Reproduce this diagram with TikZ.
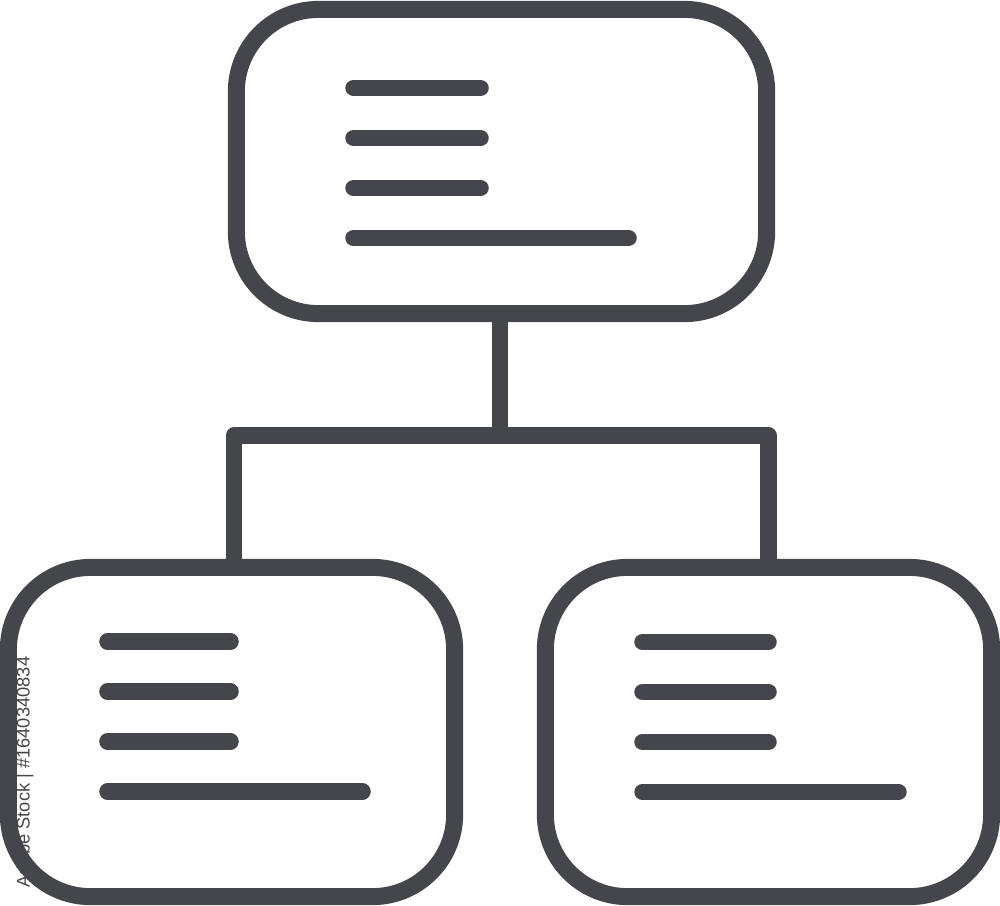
\documentclass[tikz,border=0pt]{standalone}
\usepackage{fontspec}
\newfontfamily\wmfont{Liberation Sans}
\definecolor{ink}{RGB}{69,70,75}
\begin{document}
\begin{tikzpicture}[x=0.01cm,y=-0.01cm,
  card/.style={draw=ink, line width=0.17cm, rounded corners=0.82cm, rectangle, inner sep=0pt, outer sep=0pt},
  textline/.style={draw=ink, line width=0.165cm, line cap=round},
  link/.style={draw=ink, line width=0.165cm, line join=round}]
\useasboundingbox (0,0) rectangle (1000,905);
\fill[white] (0,0) rectangle (1000,905);
% boxes
\node[card, minimum width=5.30cm, minimum height=3.04cm] (top) at (501.5,161.5) {};
\node[card, minimum width=4.46cm, minimum height=3.29cm] (bl) at (231.5,732) {};
\node[card, minimum width=4.46cm, minimum height=3.29cm] (br) at (768.5,732) {};
% connectors
\coordinate (bus) at (500,435.5);
\coordinate (lt) at (234,435.5);
\coordinate (rt) at (768.5,435.5);
\draw[link] (top.south -| bus) -- (bus);
\draw[link] (bl.north -| lt) -- (lt) -- (rt) -- (br.north -| rt);
% text lines
\foreach \yy in {88,138,188} \draw[textline] (353.5,\yy) -- (480.5,\yy);
\draw[textline] (353.5,238) -- (628.5,238);
\foreach \yy in {641.5,691.5,741.5} \draw[textline] (107.5,\yy) -- (230.5,\yy);
\draw[textline] (107.5,791.5) -- (362.5,791.5);
\foreach \yy in {642,692,742} \draw[textline] (642.5,\yy) -- (768.5,\yy);
\draw[textline] (642.5,792) -- (898.5,792);
% watermark text
\node[rotate=90, text=ink, font=\wmfont\fontsize{5.2}{6}\selectfont, inner sep=0pt] (wm) at (25,772) {Adobe Stock | \#1640340834};
\end{tikzpicture}
\end{document}
